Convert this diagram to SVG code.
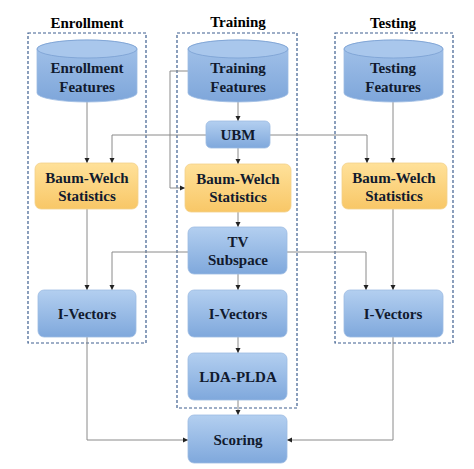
<svg xmlns="http://www.w3.org/2000/svg" width="474" height="469" viewBox="0 0 474 469">
<defs>
<linearGradient id="gb" x1="0" y1="0" x2="0" y2="1"><stop offset="0" stop-color="#b3cff0"/><stop offset="1" stop-color="#7fa8dc"/></linearGradient>
<linearGradient id="gy" x1="0" y1="0" x2="0" y2="1"><stop offset="0" stop-color="#ffe19a"/><stop offset="1" stop-color="#f8c767"/></linearGradient>
<linearGradient id="gc" x1="0" y1="0" x2="0" y2="1"><stop offset="0" stop-color="#a4c3ea"/><stop offset="1" stop-color="#7ea6da"/></linearGradient>
<marker id="ah" markerWidth="6" markerHeight="6" refX="5" refY="3" orient="auto" markerUnits="userSpaceOnUse"><path d="M0,0.5 L5,3 L0,5.5 Z" fill="#222"/></marker>
<style>
.panel{fill:#fff;stroke:#3e5f8f;stroke-width:1.2;stroke-dasharray:3,2}
.b{fill:url(#gb);stroke:#9dbbe2;stroke-width:0.8}
.y{fill:url(#gy);stroke:#f3d08a;stroke-width:0.8}
.cyl{fill:url(#gc);stroke:#9dbbe2;stroke-width:0.8}
.cylt{fill:#a9c7ec;stroke:#7aa0d2;stroke-width:0.8}
text{font-family:'Liberation Serif',serif;font-weight:bold;font-size:15px;text-anchor:middle}
.t{fill:#111a2e}
.h{fill:#000}
.c{fill:none;stroke:#8a8a8a;stroke-width:1}
.ca{fill:none;stroke:#8a8a8a;stroke-width:1;marker-end:url(#ah)}
</style>
</defs>
<rect width="474" height="469" fill="#fff"/>
<g id="panels">
<rect class="panel" x="28" y="33" width="118" height="310"/>
<rect class="panel" x="177" y="33" width="120" height="375"/>
<rect class="panel" x="335" y="33" width="118" height="310"/>
<text class="h" x="87" y="28">Enrollment</text>
<text class="h" x="238" y="27">Training</text>
<text class="h" x="393" y="28">Testing</text>
</g>
<g id="connectors">
<path class="ca" d="M87,102 V163"/>
<path class="c" d="M238,135 H112"/>
<path class="ca" d="M112,135 V163"/>
<path class="c" d="M270,135 H367"/>
<path class="ca" d="M367,135 V163"/>
<path class="ca" d="M393,102 V163"/>
<path class="ca" d="M238,102 V121"/>
<path class="ca" d="M238,148 V164"/>
<path class="ca" d="M188,71 H170 V188 H185"/>
<path class="ca" d="M238,212 V227"/>
<path class="ca" d="M87,209 V290"/>
<path class="ca" d="M188,252 H112 V290"/>
<path class="ca" d="M287,252 H366 V290"/>
<path class="ca" d="M393,209 V290"/>
<path class="ca" d="M238,274 V290"/>
<path class="ca" d="M238,337 V353"/>
<path class="ca" d="M238,400 V415"/>
<path class="ca" d="M87,337 V440 H188"/>
<path class="ca" d="M393,337 V440 H287"/>
</g>
<g id="enroll-features">
<path class="cyl" d="M37,49 A50,9 0 0 1 137,49 L137,93 A50,9 0 0 1 37,93 Z"/>
<ellipse class="cylt" cx="87" cy="49" rx="50" ry="9"/>
<text class="t" x="87" y="73">Enrollment</text>
<text class="t" x="87" y="92">Features</text>
</g>
<g id="train-features">
<path class="cyl" d="M188,49 A50,9 0 0 1 288,49 L288,93 A50,9 0 0 1 188,93 Z"/>
<ellipse class="cylt" cx="238" cy="49" rx="50" ry="9"/>
<text class="t" x="238" y="73">Training</text>
<text class="t" x="238" y="92">Features</text>
</g>
<g id="test-features">
<path class="cyl" d="M344,49 A49.5,9 0 0 1 443,49 L443,93 A49.5,9 0 0 1 344,93 Z"/>
<ellipse class="cylt" cx="393.5" cy="49" rx="49.5" ry="9"/>
<text class="t" x="393" y="73">Testing</text>
<text class="t" x="393" y="92">Features</text>
</g>
<g id="ubm">
<rect class="b" x="206" y="121" width="64" height="27" rx="5"/>
<text class="t" x="238" y="140">UBM</text>
</g>
<g id="bw-enroll">
<rect class="y" x="35" y="163" width="103" height="46" rx="6"/>
<text class="t" x="87" y="183">Baum-Welch</text>
<text class="t" x="87" y="201">Statistics</text>
</g>
<g id="bw-train">
<rect class="y" x="185" y="164" width="106" height="48" rx="6"/>
<text class="t" x="238" y="184">Baum-Welch</text>
<text class="t" x="238" y="202">Statistics</text>
</g>
<g id="bw-test">
<rect class="y" x="342" y="163" width="105" height="46" rx="6"/>
<text class="t" x="394" y="183">Baum-Welch</text>
<text class="t" x="394" y="201">Statistics</text>
</g>
<g id="tv">
<rect class="b" x="188" y="227" width="99" height="47" rx="6"/>
<text class="t" x="238" y="247">TV</text>
<text class="t" x="238" y="265">Subspace</text>
</g>
<g id="iv-enroll">
<rect class="b" x="38" y="290" width="98" height="47" rx="6"/>
<text class="t" x="87" y="319">I-Vectors</text>
</g>
<g id="iv-train">
<rect class="b" x="188" y="290" width="99" height="47" rx="6"/>
<text class="t" x="238" y="319">I-Vectors</text>
</g>
<g id="iv-test">
<rect class="b" x="344" y="290" width="99" height="47" rx="6"/>
<text class="t" x="393" y="319">I-Vectors</text>
</g>
<g id="lda">
<rect class="b" x="188" y="353" width="99" height="47" rx="6"/>
<text class="t" x="238" y="382">LDA-PLDA</text>
</g>
<g id="scoring">
<rect class="b" x="188" y="415" width="99" height="48" rx="6"/>
<text class="t" x="238" y="445">Scoring</text>
</g>
</svg>
